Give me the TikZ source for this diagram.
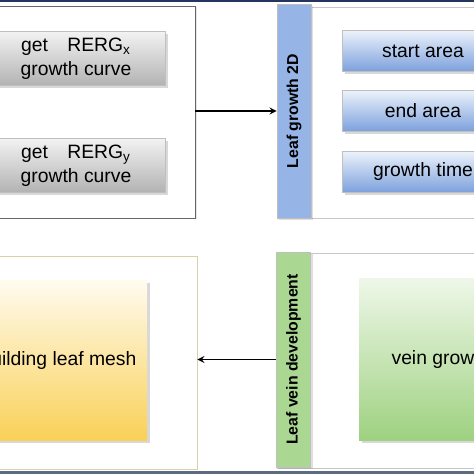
\documentclass[tikz,border=0pt]{standalone}
\usepackage{fontspec}
\setmainfont{Liberation Sans}
\usepackage{xcolor}
\usetikzlibrary{shapes,arrows,positioning,shadows}
\definecolor{navyband}{RGB}{38,52,96}
\definecolor{slateband}{RGB}{92,106,130}
\definecolor{barblue}{RGB}{150,181,230}
\definecolor{boxbluetop}{RGB}{236,242,251}
\definecolor{boxblue}{RGB}{124,160,220}
\definecolor{bargreen}{RGB}{170,216,146}
\definecolor{boxgreentop}{RGB}{238,247,232}
\definecolor{boxgreen}{RGB}{158,209,128}
\definecolor{boxyellowtop}{RGB}{255,251,238}
\definecolor{boxyellow}{RGB}{249,208,86}
\definecolor{meshframe}{RGB}{217,210,168}

\begin{document}
\begin{tikzpicture}[font=\fontsize{11}{13.5}\selectfont,frame/.style={draw=black!22,fill=white,minimum width=4.26cm,minimum height=4.22cm},box/.style={draw=black!25,align=center,drop shadow={opacity=0.3,shadow xshift=0.05cm,shadow yshift=-0.05cm}},bar/.style={draw=black!25,rotate=90,minimum width=4.28cm,minimum height=0.68cm,font=\fontsize{9}{11}\selectfont\bfseries,drop shadow={opacity=0.25,shadow xshift=0.04cm,shadow yshift=-0.04cm}}]
    \useasboundingbox (0,0) rectangle (9.48,9.48);
    \clip (0,0) rectangle (9.48,9.48);
    % top and bottom bands of the page
    \fill[navyband] (0,9.43) rectangle (9.48,9.48);
    \fill[slateband] (0,0) rectangle (9.48,0.06);

    % Leaf growth 2D
    \node[frame,draw=black!60,minimum width=4.2cm,minimum height=4.24cm,drop shadow={opacity=0.2,shadow xshift=0.03cm,shadow yshift=-0.03cm}] at (1.8,7.24) (curves) {};
    \node[box,top color=black!5,bottom color=black!30,minimum width=3.56cm,minimum height=1.08cm] at (1.52,8.31) (rergx) {get\quad RERG\textsubscript{x}\\growth curve};
    \node[box,top color=black!5,bottom color=black!30,minimum width=3.56cm,minimum height=1.08cm] at (1.52,6.17) (rergy) {get\quad RERG\textsubscript{y}\\growth curve};
    \node[frame] at (7.67,7.22) (params) {};
    \node[box,top color=boxbluetop,bottom color=boxblue,minimum width=3.24cm,minimum height=0.82cm] at (8.46,8.46) (startA) {start area};
    \node[box,top color=boxbluetop,bottom color=boxblue,minimum width=3.24cm,minimum height=0.82cm] at (8.46,7.26) (endA) {end area};
    \node[box,top color=boxbluetop,bottom color=boxblue,minimum width=3.24cm,minimum height=0.82cm] at (8.46,6.04) (growT) {growth time};
    \node[bar,fill=barblue] at (5.88,7.26) (growBar) {Leaf growth 2D};

    % Leaf vein development
    \node[frame,draw=meshframe,minimum width=4.24cm,minimum height=4.26cm] at (1.82,2.23) (meshF) {};
    \node[box,draw=none,top color=boxyellowtop,bottom color=boxyellow,minimum width=3.54cm,minimum height=3.2cm] at (1.17,2.26) (mesh) {building leaf mesh};
    \node[frame,minimum height=4.3cm] at (7.67,2.27) (veinF) {};
    \node[box,draw=none,top color=boxgreentop,bottom color=boxgreen,minimum width=3.28cm,minimum height=3.24cm] at (8.82,2.28) (vein) {vein growth};
    \node[bar,fill=bargreen,minimum width=4.3cm] at (5.87,2.29) (veinBar) {Leaf vein development};

    \draw[->,>=stealth,thick] (curves.east |- growBar) -- (growBar.north);
    \draw[->,>=stealth,thick] (veinBar.north) -- (veinBar.north -| meshF.east);
\end{tikzpicture}
\end{document}
